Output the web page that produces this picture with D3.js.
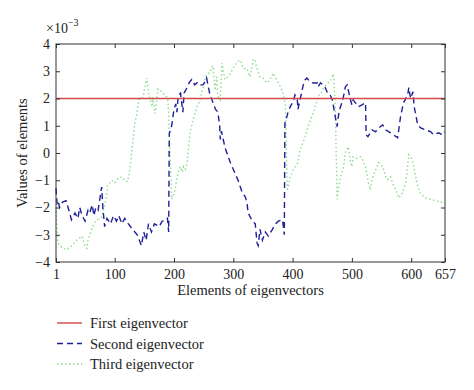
<!DOCTYPE html>
<html>
<head>
<meta charset="utf-8">
<script src="https://cdn.jsdelivr.net/npm/d3@7"></script>
<style>
  body { margin: 0; background: #fff; }
  svg text { font-family: "Liberation Serif", "DejaVu Serif", serif; fill: #222; }
  .axis path, .axis line { stroke: #333; }
</style>
</head>
<body>
<div id="chart"></div>
<script>
var width = 474,
    height = 390;

// tick labels
var xTicks = [1, 100, 200, 300, 400, 500, 600, 657];
var yTicks = [-4, -3, -2, -1, 0, 1, 2, 3, 4];

// series names
var seriesNames = ["First eigenvector", "Second eigenvector", "Third eigenvector"];

// first eigenvector (flat)
var first = [[1, 2.0], [657, 2.0]];

// second eigenvector [element, value x1e-3]
var second = [
  [1,-1.3],[3,-1.9],[5,-1.8],[7,-2.0],[12,-1.8],[18,-1.75],[24,-2.2],[27,-2.45],[33,-2.2],[38,-2.4],
  [41,-2.0],[45,-2.3],[50,-2.5],[55,-2.1],[58,-2.2],[62,-1.9],[65,-2.3],[68,-2.0],[72,-2.1],[78,-1.25],
  [80,-2.0],[83,-2.7],[87,-2.4],[93,-2.6],[98,-2.3],[103,-2.5],[107,-2.3],[112,-2.6],[117,-2.4],[123,-2.6],
  [130,-2.8],[138,-3.0],[145,-3.4],[149,-2.9],[153,-3.2],[157,-2.6],[162,-2.9],[167,-2.6],[175,-2.7],
  [180,-2.5],[185,-2.5],[189,-2.4],[191,-2.9],
  [192,0.7],[196,1.0],[200,1.6],[203,1.8],[205,1.5],[207,2.1],[211,2.2],[215,1.5],[217,2.2],[222,2.4],
  [226,2.6],[230,2.7],[235,2.5],[240,2.6],[245,2.5],[249,2.5],[252,2.6],[255,2.75],[260,2.2],[264,1.95],
  [270,1.6],[274,1.5],[277,1.0],[278,0.5],[280,0.8],[286,0.2],[295,-0.35],[303,-0.75],[308,-1.0],
  [315,-1.45],[320,-1.6],[323,-1.8],[325,-2.2],[332,-2.5],[337,-2.6],[340,-3.3],[342,-3.4],[345,-2.8],
  [349,-3.2],[354,-2.9],[359,-3.05],[366,-2.8],[371,-2.6],[376,-2.5],[383,-2.45],[385,-2.8],[386,-3.0],
  [387,1.1],[390,1.3],[392,1.47],[396,1.7],[401,1.88],[404,2.13],[408,1.95],[409,1.6],[413,2.0],[418,2.5],
  [421,2.68],[424,2.75],[430,2.6],[435,2.57],[442,2.57],[443,2.43],[447,2.57],[452,2.5],[455,2.4],
  [459,2.2],[464,2.1],[467,1.95],[469,1.7],[472,1.33],[475,0.97],[477,1.33],[480,1.65],[484,1.88],
  [489,2.43],[492,2.5],[494,2.3],[497,2.0],[500,1.77],[502,1.95],[506,1.84],[511,1.7],[517,1.77],
  [523,1.84],[524,0.67],[527,0.6],[534,0.85],[540,0.78],[545,0.92],[552,1.03],[557,0.85],[565,0.74],
  [570,0.67],[577,0.56],[579,0.85],[582,1.33],[587,1.84],[594,2.13],[596,2.4],[599,2.0],[603,2.25],
  [605,1.7],[611,1.03],[616,0.92],[624,0.85],[633,0.78],[638,0.67],[646,0.74],[653,0.67],[657,0.78]
];

// third eigenvector [element, value x1e-3]
var third = [
  [1,-2.0],[4,-3.3],[11,-3.47],[19,-3.55],[28,-3.4],[36,-3.2],[45,-3.05],[50,-3.43],[53,-3.5],[55,-3.2],
  [61,-2.8],[66,-2.55],[71,-2.45],[78,-2.35],[83,-1.95],[87,-1.45],[88,-1.2],[95,-1.0],[100,-1.1],
  [105,-0.95],[112,-0.87],[117,-1.0],[122,-1.05],[126,-0.5],[131,0.5],[134,1.1],[137,1.4],[139,1.7],
  [142,2.05],[147,1.95],[151,2.45],[154,2.75],[156,2.4],[159,2.0],[163,1.7],[164,2.05],[168,1.45],
  [171,2.0],[173,2.35],[176,2.3],[180,2.25],[185,2.1],[188,2.05],[190,1.9],[193,0.2],[196,-1.7],
  [198,-1.6],[202,-1.35],[205,-0.9],[210,-0.5],[214,-0.7],[216,-0.5],[219,-0.6],[222,-0.37],[224,0.1],
  [227,0.74],[232,1.2],[236,1.5],[239,1.7],[244,1.95],[249,2.4],[252,2.7],[255,2.9],[261,2.95],
  [264,3.15],[266,3.2],[269,2.3],[272,2.8],[274,2.1],[278,1.95],[281,3.3],[283,3.0],[286,2.7],
  [291,2.8],[295,2.9],[298,3.05],[307,3.35],[312,3.4],[317,3.1],[323,3.1],[328,2.8],[334,3.45],
  [337,3.4],[340,3.1],[345,2.8],[350,2.75],[357,2.57],[362,2.7],[367,2.93],[373,2.7],[379,2.45],
  [384,2.2],[388,1.7],[391,-1.4],[393,-1.2],[396,-0.9],[401,-0.62],[408,-0.4],[410,-0.2],[413,0.15],
  [418,0.4],[421,0.6],[425,0.9],[430,1.2],[435,1.5],[442,1.95],[443,2.1],[447,2.15],[452,2.4],
  [459,2.55],[464,2.65],[467,2.8],[469,2.9],[472,1.7],[475,-1.7],[477,-1.35],[480,-0.98],[486,-0.5],
  [489,0.0],[492,0.15],[494,0.23],[497,-0.25],[500,-0.5],[502,-0.14],[509,-0.2],[514,-0.14],[517,-0.2],
  [523,-0.5],[528,-1.1],[531,-1.35],[534,-0.98],[540,-0.62],[545,-0.35],[552,-0.5],[557,-0.87],
  [560,-0.98],[565,-0.87],[570,-1.17],[577,-1.5],[579,-1.65],[585,-1.47],[591,-1.1],[596,-0.06],
  [602,-0.25],[607,-0.8],[611,-1.23],[616,-1.5],[624,-1.65],[636,-1.72],[646,-1.78],[657,-1.83]
];

var colors = ["#d24a4a", "#1e1e9a", "#8fdc8f"];
var dashes = [null, "6,4", "1.5,2.5"];

var mLeft = 56, mRight = 445, mTop = 44, mBottom = 262;

var svg = d3.select("#chart").append("svg")
    .attr("width", width)
    .attr("height", height);

var x = d3.scaleLinear().domain([1, 657]).range([mLeft, mRight]);
var y = d3.scaleLinear().domain([-4, 4]).range([mBottom, mTop]);

var line = d3.line()
    .x(function (d) { return x(d[0]); })
    .y(function (d) { return y(d[1]); });

// lines
var series = [first, second, third];
[2, 1, 0].forEach(function (i) {
    svg.append("path")
        .datum(series[i])
        .attr("d", line)
        .attr("fill", "none")
        .attr("stroke", colors[i])
        .attr("stroke-width", 1.4)
        .attr("stroke-dasharray", dashes[i]);
});

// axes (ticks inside, on all four sides)
svg.append("g").attr("class", "axis")
    .attr("transform", "translate(0," + mBottom + ")")
    .call(d3.axisBottom(x).tickValues(xTicks).tickSizeInner(-4).tickSizeOuter(0).tickPadding(7).tickFormat(d3.format("d")))
    .selectAll("text").style("font-size", "14px");
svg.append("g").attr("class", "axis")
    .attr("transform", "translate(0," + mTop + ")")
    .call(d3.axisTop(x).tickValues(xTicks).tickSizeInner(-4).tickSizeOuter(0).tickFormat(""));
svg.append("g").attr("class", "axis")
    .attr("transform", "translate(" + mLeft + ",0)")
    .call(d3.axisLeft(y).tickValues(yTicks).tickSizeInner(-4).tickSizeOuter(0).tickPadding(6))
    .selectAll("text").style("font-size", "14px");
svg.append("g").attr("class", "axis")
    .attr("transform", "translate(" + mRight + ",0)")
    .call(d3.axisRight(y).tickValues(yTicks).tickSizeInner(-4).tickSizeOuter(0).tickFormat(""));

svg.selectAll(".axis .domain").remove();
svg.append("rect")
    .attr("x", mLeft).attr("y", mTop)
    .attr("width", mRight - mLeft).attr("height", mBottom - mTop)
    .attr("fill", "none").attr("stroke", "#333").attr("stroke-width", 1);

// exponent
var expo = svg.append("text").attr("x", 46).attr("y", 33).style("font-size", "14px");
expo.append("tspan").text("\u00d710");
expo.append("tspan").attr("dy", -7).style("font-size", "10px").text("\u22123");

// axis labels
svg.append("text")
    .attr("x", (mLeft + mRight) / 2).attr("y", 295)
    .attr("text-anchor", "middle")
    .style("font-size", "14.5px")
    .text("Elements of eigenvectors");
svg.append("text")
    .attr("transform", "translate(27," + (mTop + mBottom) / 2 + ") rotate(-90)")
    .attr("text-anchor", "middle")
    .style("font-size", "14.5px")
    .text("Values of elements");

// legend
var legend = svg.selectAll(".legend")
    .data(seriesNames)
    .enter().append("g")
    .attr("transform", function (d, i) { return "translate(57," + (323 + i * 20.5) + ")"; });
legend.append("line")
    .attr("x1", 0).attr("x2", 25)
    .attr("stroke", function (d, i) { return colors[i]; })
    .attr("stroke-width", 1.4)
    .attr("stroke-dasharray", function (d, i) { return dashes[i]; });
legend.append("text")
    .attr("x", 33).attr("dy", "0.35em")
    .style("font-size", "14.5px")
    .text(function (d) { return d; });
</script>
</body>
</html>
